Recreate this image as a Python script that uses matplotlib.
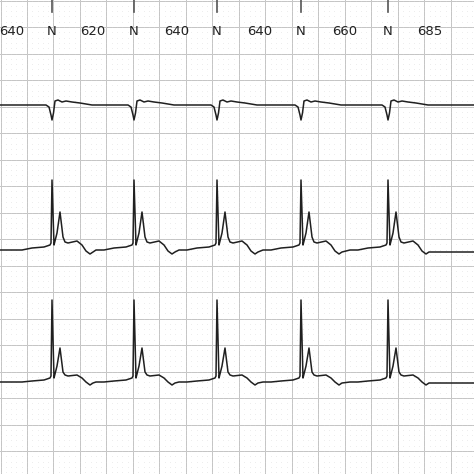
import numpy as np
import matplotlib.pyplot as plt

# beat positions (px) and annotation text along the top
r_peaks = [52, 134, 217, 301, 388]
beat_labels = ['N', 'N', 'N', 'N', 'N']
count_labels = ['640', '620', '640', '640', '660', '685']
count_x = [12, 93, 177, 260, 345, 430]

# one beat template per lead: offset from R peak (px), height above baseline (px)
top_dx = [-38, -20, -6, -3, -1, 0, 1.5, 3, 6, 10, 14, 20, 28, 34, 40]
top_dy = [0, 0, 0, -2, -10, -15, -8, 4, 5, 3, 4, 3, 2, 1, 0]
mid_dx = [-38, -30, -20, -8, -2, -1, 0, 2, 3, 5, 8, 11, 13, 16, 25, 30, 34, 38, 41]
mid_dy = [-5, -5, -3, -2, 0, 2, 65, 0, 4, 12, 33, 8, 3, 2, 4, 0, -6, -9, -7]
bot_dx = [-38, -30, -20, -8, -2, -1, 0, 2, 3, 5, 8, 11, 13, 16, 25, 30, 34, 38, 41]
bot_dy = [-4, -4, -3, -2, 0, 2, 78, 0, 4, 12, 30, 6, 3, 2, 3, 0, -4, -7, -5]
baselines = [105, 245, 378]


def build(dx, dy, base):
    xs, ys = [], []
    for r in r_peaks:
        xs += [r + d for d in dx]
        ys += [base - v for v in dy]
    xs = [0] + xs + [474]
    ys = [ys[0]] + ys + [ys[-1]]
    return xs, ys


fig = plt.figure(figsize=(4.74, 4.74), dpi=100)
ax = fig.add_axes([0, 0, 1, 1])
ax.set_xlim(0, 474)
ax.set_ylim(474, 0)
ax.axis('off')

major = 26.5
for k in range(19):
    p = 0.5 + k * major
    ax.axvline(p, color='#c4c4c4', lw=0.7, zorder=1)
    ax.axhline(p, color='#c4c4c4', lw=0.7, zorder=1)
mx = np.arange(0.5, 474, major / 5)
gx, gy = np.meshgrid(mx, mx)
ax.scatter(gx.ravel(), gy.ravel(), s=0.15, color='#d4d4d4', zorder=1, lw=0)

for dx, dy, b in [(top_dx, top_dy, baselines[0]),
                  (mid_dx, mid_dy, baselines[1]),
                  (bot_dx, bot_dy, baselines[2])]:
    xs, ys = build(dx, dy, b)
    ax.plot(xs, ys, color='#202020', lw=1.1, zorder=3)

for r, t in zip(r_peaks, beat_labels):
    ax.text(r, 31, t, ha='center', va='center', fontsize=9.5, color='#222222')
    ax.plot([r, r], [0, 12], color='#555555', lw=1.2)
for x, t in zip(count_x, count_labels):
    ax.text(x, 31, t, ha='center', va='center', fontsize=9.5, color='#222222')

fig.savefig('out.png', dpi=100)
